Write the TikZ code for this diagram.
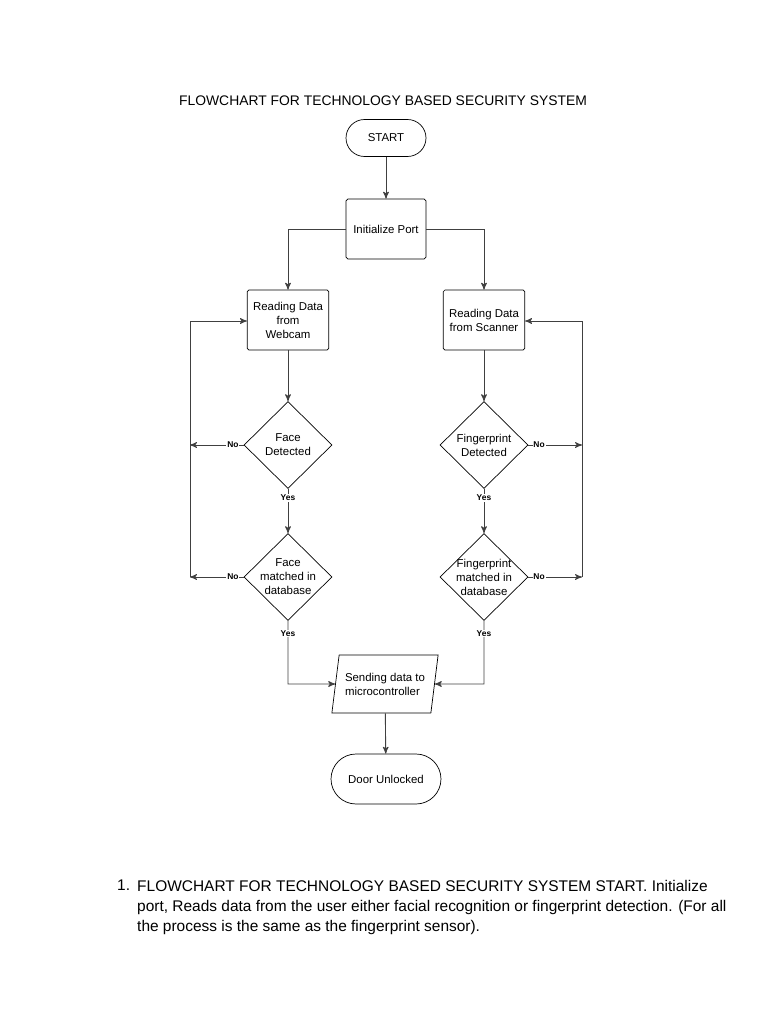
\documentclass[tikz,border=0pt]{standalone}
\usepackage{fontspec}
\setmainfont{Liberation Sans}
\usetikzlibrary{positioning}
\usetikzlibrary{arrows}
\usetikzlibrary{shapes.geometric}
\tikzset{>=stealth'}
\tikzset{box/.style={draw, rounded corners=1pt, minimum width=1.6cm, minimum height=1.2cm, align=center, font=\fontsize{6.5}{8}\selectfont}}
\tikzset{term/.style={draw, rounded corners=0.37cm, minimum width=1.6cm, minimum height=0.74cm, font=\fontsize{6.5}{8}\selectfont}}
\tikzset{dec/.style={draw, diamond, aspect=1, minimum width=1.76cm, minimum height=1.74cm, inner sep=-3pt, align=center, font=\fontsize{6.5}{8}\selectfont}}
\tikzset{ed/.style={fill=white, inner sep=0.5pt, font=\bfseries\fontsize{4.8}{6}\selectfont}}
\tikzset{flow/.style={->, draw=black!75, line width=0.5pt}}

\begin{document}
\begin{tikzpicture}[x=0.02cm, y=-0.02cm]
\useasboundingbox (0,0) rectangle (768,1024);

\node[font=\fontsize{7.9}{9}\selectfont] (title) at (383,101) {FLOWCHART FOR TECHNOLOGY BASED SECURITY SYSTEM};

\node[term] (start) at (386,138) {START};
\node[box] (init) at (386,229) {Initialize Port};
\node[box] (webcam) at (288,320) {Reading Data\\from\\Webcam};
\node[box] (scanner) at (484,320) {Reading Data\\from Scanner};
\node[dec] (faced) at (288,445) {Face\\Detected};
\node[dec] (facem) at (288,577) {Face\\matched in\\database};
\node[dec] (fingd) at (484,445) {Fingerprint\\Detected};
\node[dec] (fingm) at (484,577) {Fingerprint\\matched in\\database};
\node[draw, trapezium, trapezium left angle=78, trapezium right angle=102, trapezium stretches body, minimum width=2.05cm, minimum height=1.16cm, align=left, font=\fontsize{6.5}{8}\selectfont] (send) at (385,684) {Sending data to\\microcontroller};
\node[term, minimum width=2.2cm, minimum height=1cm, rounded corners=0.5cm] (door) at (386,779) {Door Unlocked};

\coordinate (lt) at (190,321);
\coordinate (lb) at (190,577);
\coordinate (rt) at (582,321);
\coordinate (rb) at (582,577);

\draw[flow] (start) -- (init);
\draw[flow] (init.west) -| (webcam);
\draw[flow] (init.east) -| (scanner);
\draw[flow] (webcam) -- (faced);
\draw[flow] (scanner) -- (fingd);
\draw[flow] (faced) -- node[ed, pos=0.2] {Yes} (facem);
\draw[flow] (fingd) -- node[ed, pos=0.2] {Yes} (fingm);
\draw[flow] (faced.west) -- node[ed, pos=0.2] {No} (lt |- faced);
\draw[flow] (facem.west) -- node[ed, pos=0.2] {No} (lb);
\draw[flow] (fingd.east) -- node[ed, pos=0.2] {No} (rt |- fingd);
\draw[flow] (fingm.east) -- node[ed, pos=0.2] {No} (rb);
\draw[flow] (lb) -- (lt) -- (webcam.west |- lt);
\draw[flow] (rb) -- (rt) -- (scanner.east |- rt);
\draw[flow] (facem.south) -- node[ed, pos=0.2] {Yes} (facem.south |- send) -- (send);
\draw[flow] (fingm.south) -- node[ed, pos=0.2] {Yes} (fingm.south |- send) -- (send);
\draw[flow] (send) -- (door);

\node[anchor=north west, font=\fontsize{8.8}{11.3}\selectfont] (n1) at (111,874) {1.};
\node[anchor=north west, align=left, font=\fontsize{8.8}{11.3}\selectfont] (para) at (131,874) {FLOWCHART FOR TECHNOLOGY BASED SECURITY SYSTEM START. Initialize\\port, Reads data from the user either facial recognition or fingerprint detection. (For all\\the process is the same as the fingerprint sensor).};
\end{tikzpicture}
\end{document}
